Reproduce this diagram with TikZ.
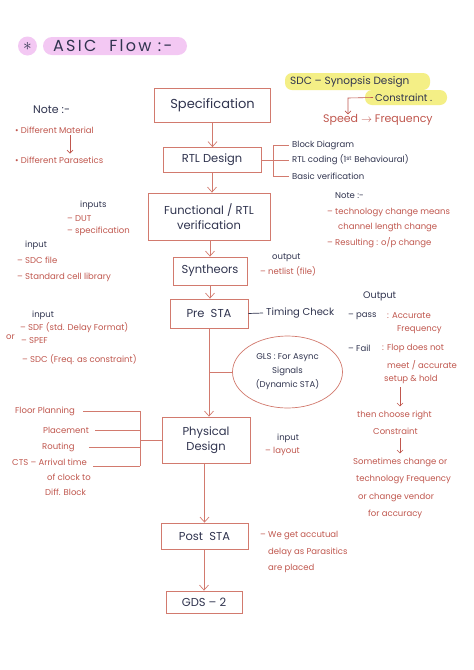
\documentclass[tikz,border=0pt]{standalone}
\usepackage{fontspec}
\setmainfont{Poppins}
\usetikzlibrary{arrows.meta,shapes.geometric}
\definecolor{boxc}{HTML}{D27A6E}
\definecolor{redt}{HTML}{C0574E}
\definecolor{ink}{HTML}{30344F}
\definecolor{pinkhl}{HTML}{F3C8F3}
\definecolor{yelhl}{HTML}{F4EF86}
\begin{document}
\begin{tikzpicture}[x=1pt,y=-1pt,
 box/.style={draw=boxc,line width=0.8pt,text=ink,font=\fontsize{11.5}{15}\selectfont,align=center,inner sep=0},
 flow/.style={draw=boxc,line width=0.7pt,-{Straight Barb[length=5pt,width=9pt]}},
 lnk/.style={draw=boxc,line width=0.7pt},
 rt/.style={text=redt,font=\fontsize{8.5}{10}\selectfont,anchor=west,inner sep=0},
 dk/.style={text=ink,font=\fontsize{8.5}{10}\selectfont,anchor=west,inner sep=0},
 narr/.style={draw=redt,line width=0.6pt,-{Straight Barb[length=3pt,width=6pt]}}
]
\useasboundingbox[fill=white] (0,0) rectangle (474,670);

% title
\fill[pinkhl] (27.5,46) circle (9.5);
\fill[pinkhl,rounded corners=9pt] (43,37) rectangle (187,55);
\node[text=ink,font=\fontsize{18}{18}\selectfont,inner sep=0] (star) at (27.5,46) {$\ast$};
\node[text=ink,font=\fontsize{16}{18}\selectfont\addfontfeature{LetterSpace=14},anchor=west,inner sep=0] (title) at (53,46) {ASIC\ \ Flow :-};

% SDC
\fill[yelhl,rounded corners=7pt] (285,73) rectangle (430,90);
\fill[yelhl,rounded corners=7pt] (365,90) rectangle (447,105);
\node[dk,font=\fontsize{10.5}{12}\selectfont] (sdc) at (290,82) {SDC -- Synopsis Design};
\node[dk,font=\fontsize{10}{12}\selectfont] (cons) at (375,97.5) {Constraint .};
\node[rt,font=\fontsize{11}{13}\selectfont] (speed) at (323,120) {Speed $\rightarrow$ Frequency};
\coordinate (sdcbend) at (348,98);
\draw[narr] ([xshift=-2pt]cons.west) -- (sdcbend) -- (sdcbend |- speed.north);

% boxes
\node[box,font=\fontsize{13}{15}\selectfont,minimum width=116pt,minimum height=34pt] (spec) at (212.5,105) {Specification};
\node[box,minimum width=98pt,minimum height=25pt] (rtl) at (212,160) {RTL Design};
\node[box,minimum width=122pt,minimum height=47pt] (func) at (209,216.5) {Functional / RTL\\verification};
\node[box,minimum width=74pt,minimum height=28pt] (syn) at (210,271) {Syntheors};
\node[box,minimum width=78pt,minimum height=29pt] (pre) at (209,313.5) {Pre\ \ STA};
\node[box,minimum width=88pt,minimum height=46pt] (phys) at (206,440) {Physical\\Design};
\node[box,minimum width=87pt,minimum height=26pt] (post) at (204.5,536) {Post\ \ STA};
\node[box,minimum width=76pt,minimum height=22pt] (gds) at (204,602) {GDS -- 2};

\draw[flow] (spec.south) -- (spec.south |- rtl.north);
\draw[flow] (rtl.south) -- (rtl.south |- func.north);
\draw[flow] (func.south -| syn.north) -- (syn.north);
\draw[flow] (syn.south) -- (syn.south |- pre.north);
\draw[flow] (pre.south) -- (pre.south |- phys.north);
\draw[flow] (phys.south -| post.north) -- (post.north);
\draw[flow] (post.south -| gds.north) -- (gds.north);

% GLS
\node[draw=boxc,line width=0.7pt,ellipse,minimum width=110pt,minimum height=72pt,inner sep=0,text=ink,font=\fontsize{8.5}{14}\selectfont,align=center] (gls) at (287.5,372) {GLS : For Async\\Signals\\(Dynamic STA)};
\coordinate (glsj) at (pre.south |- gls.west);
\draw[lnk] (glsj) -- (gls.west);

% timing check
\node[text=ink,font=\fontsize{10}{12}\selectfont,anchor=west,inner sep=0] (tc) at (266,313) {Timing Check};
\draw[draw=ink,line width=0.7pt] (pre.east) -- ([xshift=-3pt]tc.west);

% RTL bracket
\coordinate (rb) at (273,160);
\node[dk] (bd) at (292,145) {Block Diagram};
\node[dk] (rc) at (292,160) {RTL coding (1\textsuperscript{st} Behavioural)};
\node[dk] (bv) at (292,176) {Basic verification};
\draw[lnk] (rtl.east) -- (rb);
\draw[lnk] (rb |- bd.west) -- (rb |- bv.west);
\draw[lnk] (rb |- bd.west) -- ([xshift=-3pt]bd.west);
\draw[lnk] (rb) -- ([xshift=-3pt]rc.west);
\draw[lnk] (rb |- bv.west) -- ([xshift=-3pt]bv.west);

% left note
\node[dk,font=\fontsize{11}{13}\selectfont] (note1) at (33,110) {Note :-};
\node[rt] (dm) at (15,130) {\textbullet\ Different Material};
\node[rt] (dp) at (15,160) {\textbullet\ Different Parasetics};
\coordinate (ax) at (70,0);
\draw[narr] ([yshift=-2pt]dm.south -| ax) -- ([yshift=3pt]dp.north -| ax);

% inputs
\node[dk] (inp1) at (80,205) {inputs};
\node[rt] (dut) at (67,219) {-- DUT};
\node[rt] (spc) at (67,231) {-- specification};
\node[dk] (inp2) at (25,245) {input};
\node[rt] (sdcf) at (17,260) {-- SDC file};
\node[rt] (scl) at (17,277) {-- Standard cell library};

% right note
\node[dk] (note2) at (335,196) {Note :-};
\node[rt] (tc1) at (327,212) {-- technology change means};
\node[rt] (tc2) at (338,227) {channel length change};
\node[rt] (tc3) at (327,243) {-- Resulting : o/p change};

% synth output
\node[dk] (out1) at (272,258) {output};
\node[rt] (nl) at (260,271) {-- netlist (file)};

% pre STA input
\node[dk] (inp3) at (32,315) {input};
\node[rt] (sdf) at (20,328) {-- SDF (std. Delay Format)};
\node[rt] (orr) at (6,337) {or};
\node[rt] (spef) at (21,341) {-- SPEF};
\node[rt] (sdcc) at (22,360) {-- SDC (Freq. as constraint)};

% output right
\node[dk,font=\fontsize{9.5}{11}\selectfont] (out2) at (363,296) {Output};
\node[dk] (pass) at (348,316) {-- pass};
\node[rt] (acc) at (387,316) {: Accurate};
\node[rt] (frq) at (397,330) {Frequency};
\node[dk] (fail) at (348,348) {-- Fail};
\node[rt] (flop) at (382,348) {: Flop does not};
\node[rt] (meet) at (387,365) {meet / accurate};
\node[rt] (setup) at (384,379) {setup \& hold};
\node[rt] (then) at (357,415) {then choose right};
\node[rt] (cstr) at (373,431) {Constraint};
\node[rt] (some) at (353,462) {Sometimes change or};
\node[rt] (tech) at (356,479) {technology Frequency};
\node[rt] (vend) at (358,497) {or change vendor};
\node[rt] (facc) at (368,514) {for accuracy};
\coordinate (ax2) at (400,0);
\draw[narr] ([yshift=-4pt]setup.south -| ax2) -- ([yshift=4pt]then.north -| ax2);
\draw[narr] ([yshift=-4pt]cstr.south -| ax2) -- ([yshift=4pt]some.north -| ax2);

% physical design left
\node[rt] (fp) at (15,411) {Floor Planning};
\node[rt] (pl) at (43,430) {Placement};
\node[rt] (rou) at (42,447) {Routing};
\node[rt] (cts) at (12,462) {CTS -- Arrival time};
\node[rt] (cts2) at (47,477) {of clock to};
\node[rt] (cts3) at (45,492) {Diff. Block};
\coordinate (pb) at (140,440);
\draw[lnk] ([xshift=8pt]fp.east) -- (fp.east -| pb);
\draw[lnk] ([xshift=6pt]pl.east) -- (pl.east -| pb);
\draw[lnk] ([xshift=14pt]rou.east) -- (rou.east -| pb);
\draw[lnk] ([xshift=6pt,yshift=-4pt]cts.east) -- ([yshift=-4pt]cts.east -| pb);
\draw[lnk] (fp.east -| pb) -- ([yshift=-4pt]cts.east -| pb);
\draw[lnk] (pb) -- (phys.west);

% physical input
\node[dk] (inp4) at (277,438) {input};
\node[rt] (lay) at (265,451) {-- layout};

% post STA note
\node[rt] (wg) at (260,535) {-- We get accutual};
\node[rt] (dl) at (268,552) {delay as Parasitics};
\node[rt] (ap) at (268,568) {are placed};
\end{tikzpicture}
\end{document}
